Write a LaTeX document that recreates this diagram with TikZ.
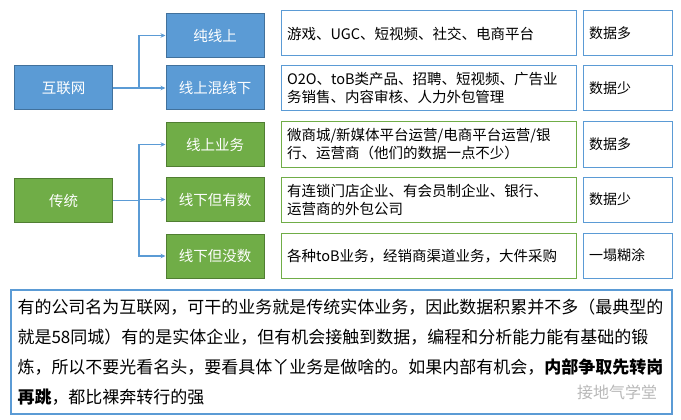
\documentclass[tikz,border=0pt]{standalone}
\usepackage{fontspec}
\setmainfont{Noto Sans CJK SC}
\usepackage{tikz}
\usetikzlibrary{arrows.meta}

\definecolor{netblue}{HTML}{5B9BD5}
\definecolor{netdark}{HTML}{41719C}
\definecolor{oldgreen}{HTML}{70AD47}
\definecolor{olddark}{HTML}{507E32}

\begin{document}
\begin{tikzpicture}[x=1pt, y=-1pt,
  catbox/.style={minimum width=98pt, minimum height=44pt, inner sep=0pt, line width=1pt,
    text=white, font=\fontsize{14.5}{17}\selectfont},
  descbox/.style={draw=#1, fill=white, line width=1pt, text width=283pt, inner xsep=6pt,
    minimum height=45pt, align=left, font=\fontsize{14.5}{18}\selectfont},
  datbox/.style={draw=netblue, fill=white, line width=1pt, text width=77pt, inner xsep=6pt,
    minimum height=45pt, align=left, font=\fontsize{14}{18}\selectfont},
  link/.style={draw=netblue, line width=1.1pt, -{Stealth[length=5pt, width=4.5pt]}}]
  \useasboundingbox (0,0) rectangle (681,420);

  % internet group
  \node[catbox, fill=netblue, draw=netdark] (net) at (63.5,88) {互联网};
  \node[catbox, fill=netblue, draw=netdark] (pure) at (215,35.5) {纯线上};
  \node[catbox, fill=netblue, draw=netdark] (mixed) at (215,88) {线上混线下};
  \node[descbox=netblue] (puredesc) at (428.5,33.5) {游戏、UGC、短视频、社交、电商平台};
  \node[descbox=netblue] (mixeddesc) at (428.5,88) {O2O、toB类产品、招聘、短视频、广告业\\务销售、内容审核、人力外包管理};

  % traditional group
  \node[catbox, fill=oldgreen, draw=olddark] (trad) at (63.5,200.5) {传统};
  \node[catbox, fill=oldgreen, draw=olddark] (online) at (215,144.5) {线上业务};
  \node[catbox, fill=oldgreen, draw=olddark] (hasdata) at (215,199.5) {线下但有数};
  \node[catbox, fill=oldgreen, draw=olddark] (nodata) at (215,256) {线下但没数};
  \node[descbox=oldgreen] (onlinedesc) at (428.5,144.5) {微商城/新媒体平台运营/电商平台运营/银\\行、运营商（他们的数据一点不少）};
  \node[descbox=oldgreen] (hasdesc) at (428.5,199.5) {有连锁门店企业、有会员制企业、银行、\\运营商的外包公司};
  \node[descbox=oldgreen] (nodesc) at (428.5,256) {各种toB业务，经销商渠道业务，大件采购};

  % data amount
  \foreach \y/\t/\n in {33.5/数据多/d1, 88/数据少/d2, 144.5/数据多/d3, 199.5/数据少/d4, 255.5/一塌糊涂/d5}
    \node[datbox] (\n) at (627.5,\y) {\t};

  % connectors
  \coordinate (netfork) at (139,88);
  \coordinate (tradfork) at (139,200.5);
  \draw[netblue, line width=1.1pt] (net.east) -- (netfork);
  \draw[link] (netfork) |- (pure.west);
  \draw[link] (netfork) |- (mixed.west);
  \draw[netblue, line width=1.1pt] (trad.east) -- (tradfork);
  \foreach \n in {online, hasdata, nodata}
    \draw[link] (tradfork) |- (\n.west);

  % note
  \node[draw=netblue, line width=1.2pt, minimum width=661pt, minimum height=124pt,
    text width=648pt, inner xsep=6.5pt, align=left, font=\fontsize{17}{30}\selectfont]
    (note) at (341.5,352) {有的公司名为互联网，可干的业务就是传统实体业务，因此数据积累并不多（最典型的\\就是58同城）有的是实体企业，但有机会接触到数据，编程和分析能力能有基础的锻\\炼，所以不要光看名头，要看具体丫业务是做啥的。如果内部有机会，\textbf{内部争取先转岗}\\\textbf{再跳}，都比裸奔转行的强};
  \node[text=black!28, font=\fontsize{16}{16}\selectfont, inner sep=0pt] (mark) at (617,392) {接地气学堂};
\end{tikzpicture}
\end{document}
